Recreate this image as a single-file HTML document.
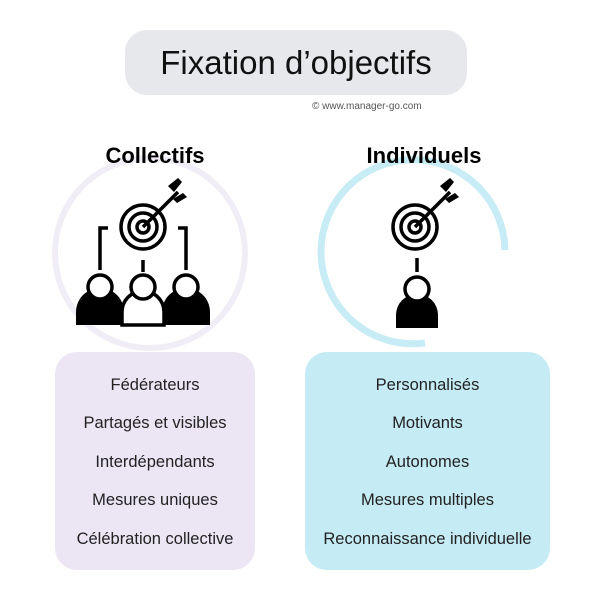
<!DOCTYPE html>
<html><head><style>
body{margin:0;width:600px;height:600px;background:#fff;position:relative;font-family:"Liberation Sans",sans-serif;overflow:hidden}
.t{position:absolute;left:125px;top:30px;width:342px;height:65px;background:#e6e8ec;border-radius:22px;text-align:center;line-height:65px;font-size:33px;color:#111}
.c{position:absolute;font-size:10px;color:#555;left:312px;top:101px}
.h{position:absolute;font-weight:bold;font-size:22px;color:#000;text-align:center;width:200px;top:143px}
.b{position:absolute;top:352px;height:218px;border-radius:22px}
.b div{position:absolute;width:100%;text-align:center;font-size:16.5px;color:#222}
</style></head><body>
<div class="t">Fixation d’objectifs</div>
<div class="c">© www.manager-go.com</div>
<svg width="600" height="600" style="position:absolute;left:0;top:0">
<circle cx="150" cy="253" r="95" fill="none" stroke="#f1edf7" stroke-width="6"/>
<path d="M 505 250 A 92 92 0 1 0 425 343" fill="none" stroke="#c8ecf5" stroke-width="7"/>
<g fill="none" stroke="#000" stroke-width="3.5">
<circle cx="143" cy="227" r="22"/><circle cx="143" cy="227" r="14"/><circle cx="143" cy="227" r="6"/>
<line x1="143" y1="227" x2="178" y2="192"/>
<path d="M108 228H100V270M178 228H186V270M143 260V272"/>
<circle cx="415" cy="227" r="22"/><circle cx="415" cy="227" r="14"/><circle cx="415" cy="227" r="6"/>
<line x1="415" y1="227" x2="450" y2="192"/>
<path d="M417 258V272"/>
</g>
<g fill="#000">
<path d="M168 186l10-8 4 4-8 10zM173 199l10-6 4 4-10 6z"/>
<path d="M440 186l10-8 4 4-8 10zM445 199l10-6 4 4-10 6z"/>
<path d="M76 325V312a24 24 0 0 1 48 0V325z"/>
<path d="M162 325V312a24 24 0 0 1 48 0V325z"/>
<path d="M396 328V315a21 21 0 0 1 42 0V328z"/>
</g>
<g stroke="#000" stroke-width="3.5" fill="#fff">
<path d="M122 325V312a21 21 0 0 1 42 0V325z"/>
<circle cx="100" cy="287" r="12"/><circle cx="143" cy="287" r="12"/><circle cx="186" cy="287" r="12"/>
<circle cx="417" cy="289" r="12"/>
</g>
</svg>
<div class="h" style="left:55px">Collectifs</div>
<div class="h" style="left:324px">Individuels</div>
<div class="b" style="left:55px;width:200px;background:#ece6f4">
<div style="top:24px">Fédérateurs</div><div style="top:62px">Partagés et visibles</div><div style="top:101px">Interdépendants</div><div style="top:139px">Mesures uniques</div><div style="top:178px">Célébration collective</div></div>
<div class="b" style="left:305px;width:245px;background:#c5ebf5">
<div style="top:24px">Personnalisés</div><div style="top:62px">Motivants</div><div style="top:101px">Autonomes</div><div style="top:139px">Mesures multiples</div><div style="top:178px">Reconnaissance individuelle</div></div>
</body></html>
